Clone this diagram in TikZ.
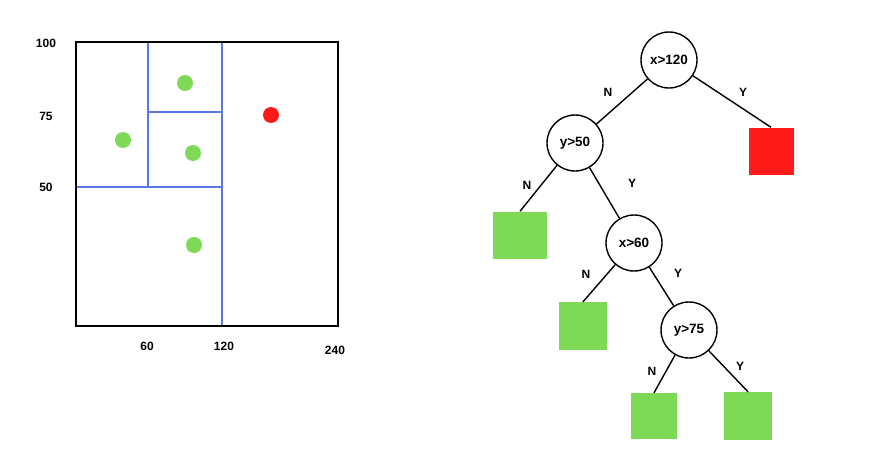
\documentclass[tikz,border=0pt]{standalone}
\usepackage{fontspec}
\setmainfont{Liberation Sans}
\begin{document}
\begin{tikzpicture}[x=1pt,y=-1pt,
  lbl/.style={font=\bfseries\fontsize{12}{14}\selectfont},
  cnode/.style={circle,draw,line width=1.4pt,minimum size=56pt,inner sep=0pt,font=\bfseries\fontsize{13.5}{15}\selectfont},
  edge/.style={line width=1.4pt}]
\definecolor{lg}{HTML}{7ED957}
\definecolor{rd}{HTML}{FF1A1A}
\definecolor{bl}{HTML}{5B78E8}
\useasboundingbox (0,0) rectangle (875,450);
% plot
\draw[bl,line width=1.6pt] (148,42) -- (148,187);
\draw[bl,line width=1.6pt] (76,187) -- (222,187);
\draw[bl,line width=1.6pt] (222,42) -- (222,326);
\draw[bl,line width=1.6pt] (148,112) -- (222,112);
\draw[line width=1.6pt] (76,42) rectangle (338,326);
\node[lbl] (l100) at (46,43) {100};
\node[lbl] (l75) at (46,116) {75};
\node[lbl] (l50) at (46,187) {50};
\node[lbl] (l60) at (147,346) {60};
\node[lbl] (l120) at (224,346) {120};
\node[lbl] (l240) at (335,350) {240};
\foreach \p in {(123,140),(185,83),(193,153),(194,245)}
  \fill[lg] \p circle (8);
\fill[rd] (271,115) circle (8);
% tree
\node[cnode] (a) at (669,60) {x>120};
\node[cnode] (b) at (575,143) {y>50};
\node[cnode] (c) at (634,243) {x>60};
\node[cnode] (d) at (689,330) {y>75};
\node[fill=rd,minimum width=45pt,minimum height=47pt,inner sep=0pt] (s1) at (771,151) {};
\node[fill=lg,minimum width=54pt,minimum height=47pt,inner sep=0pt] (s2) at (520,235) {};
\node[fill=lg,minimum width=48pt,minimum height=48pt,inner sep=0pt] (s3) at (583,326) {};
\node[fill=lg,minimum width=46pt,minimum height=46pt,inner sep=0pt] (s4) at (654,416) {};
\node[fill=lg,minimum width=48pt,minimum height=48pt,inner sep=0pt] (s5) at (748,416) {};
\draw[edge] (a) -- (b);
\draw[edge] (a) -- (s1.north);
\draw[edge] (b) -- (s2.north);
\draw[edge] (b) -- (c);
\draw[edge] (c) -- (s3.north);
\draw[edge] (c) -- (d);
\draw[edge] (d) -- (s4.north);
\draw[edge] (d) -- (s5.north);
\node[lbl] (n1) at (608,92) {N};
\node[lbl] (y1) at (743,92) {Y};
\node[lbl] (n2) at (527,185) {N};
\node[lbl] (y2) at (632,183) {Y};
\node[lbl] (n3) at (586,274) {N};
\node[lbl] (y3) at (678,273) {Y};
\node[lbl] (n4) at (652,371) {N};
\node[lbl] (y4) at (740,366) {Y};
\end{tikzpicture}
\end{document}
